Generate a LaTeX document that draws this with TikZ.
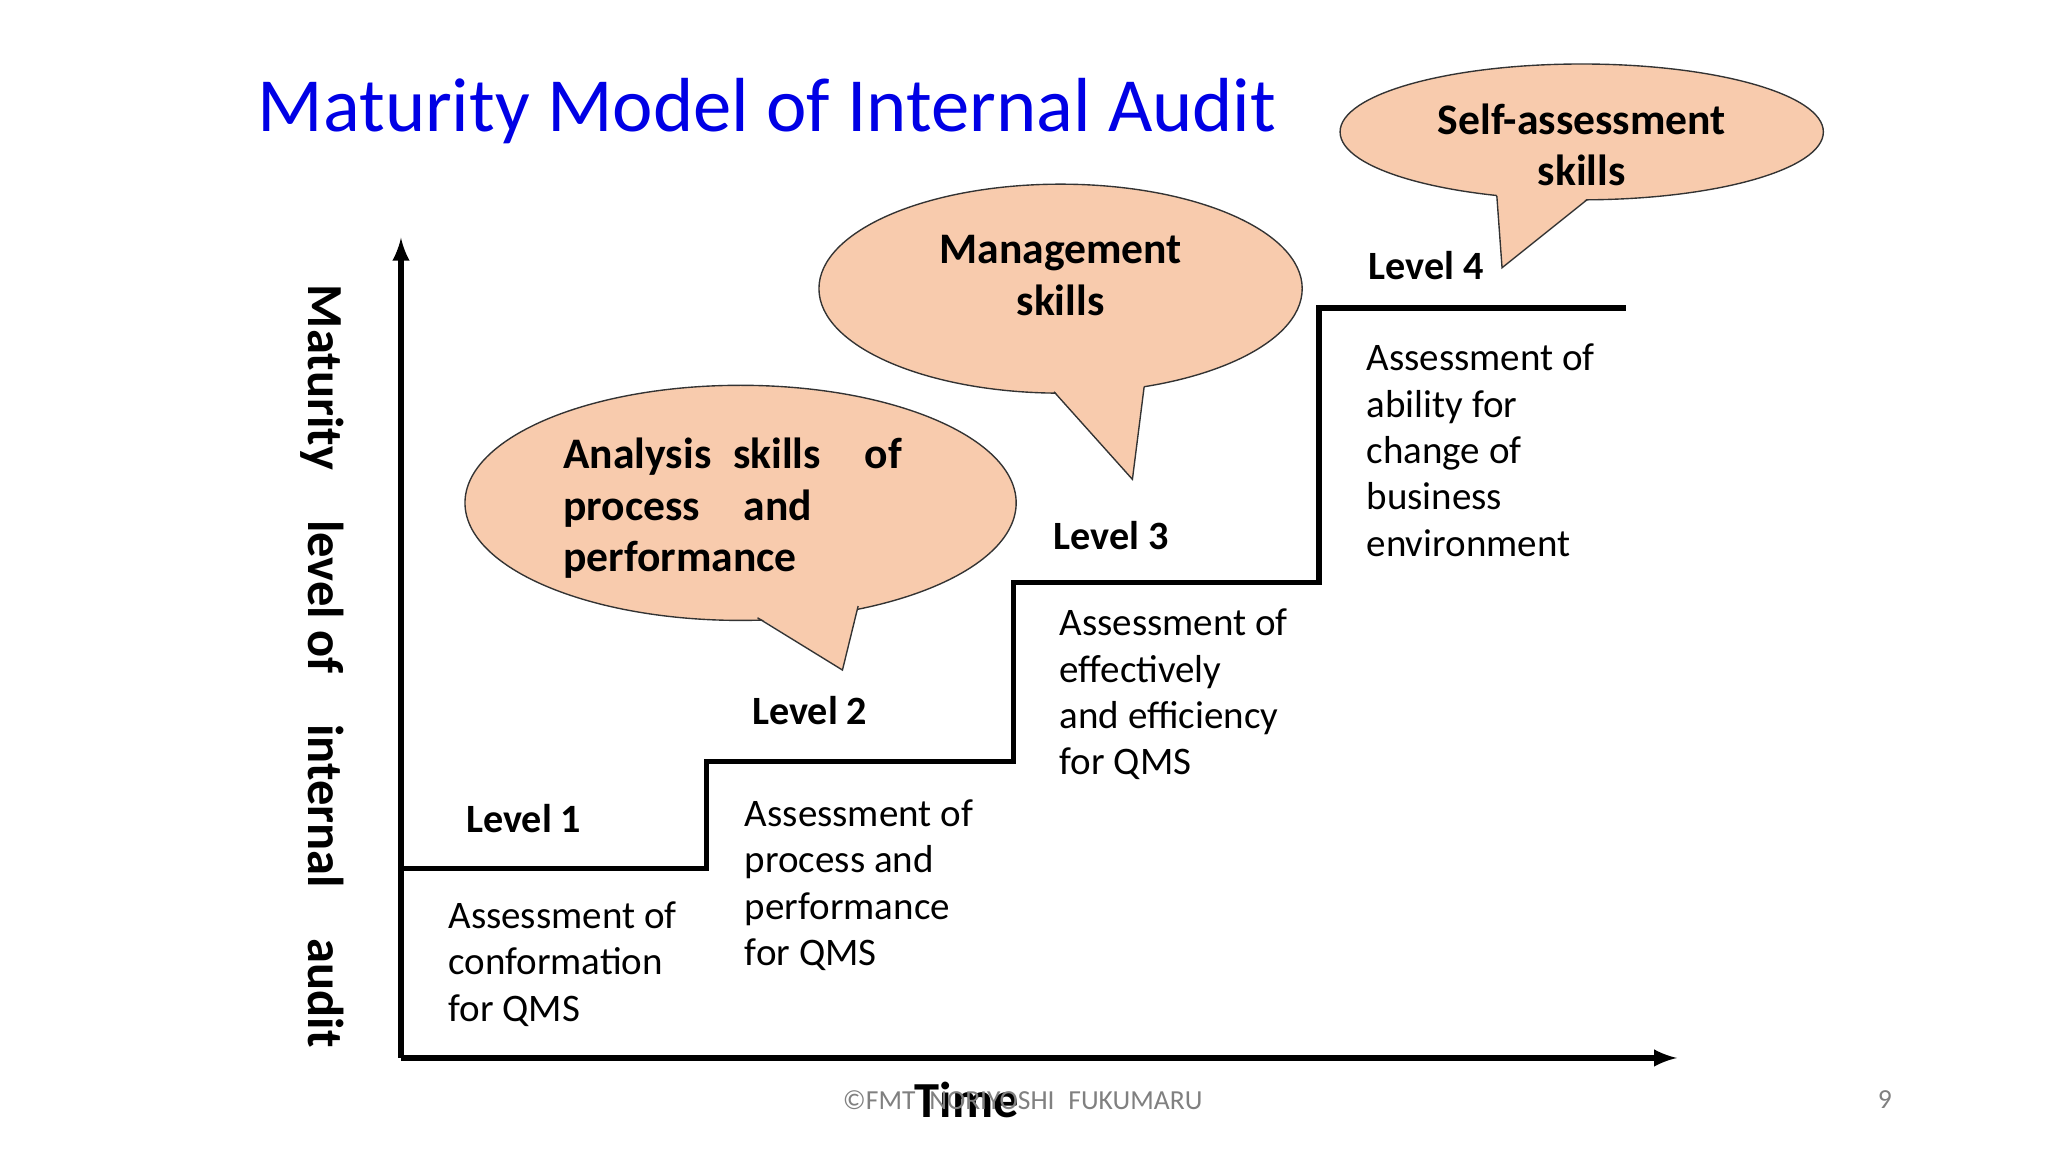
\documentclass[tikz,border=0pt]{standalone}
\usepackage{fontspec}
\setmainfont{Carlito}
\begin{document}
\begin{tikzpicture}
  [x=0.02cm, y=-0.02cm,
   stepline/.style={line width=2.4pt},
   axisline/.style={line width=2.4pt, -latex},
   level/.style={font=\fontsize{17.5}{20}\selectfont\bfseries, inner sep=0pt},
   desc/.style={font=\fontsize{17}{20.2}\selectfont, align=left, anchor=north west, inner sep=0pt},
   bubtext/.style={font=\fontsize{19}{22.5}\selectfont\bfseries, inner sep=0pt},
   bubline/.style={draw=black!80, line width=0.6pt}]
  \definecolor{peach}{HTML}{F8CBAD}
  \tikzset{bubfill/.style={fill=peach}}
  \useasboundingbox (0,0) rectangle (1568,882);
  % title
  \node[anchor=west, text=blue!90!black, font=\fontsize{33.4}{40}\selectfont, inner sep=0pt] (title) at (197,85) {Maturity Model of Internal Audit};
  % axes
  \coordinate (origin) at (307,810);
  \coordinate (ytop) at (307,182);
  \coordinate (xend) at (1284,810);
  \draw[axisline] (origin) -- (ytop);
  \draw[axisline] (origin) -- (xend);
  \node[rotate=-90, font=\fontsize{22}{24}\selectfont\bfseries, inner sep=0pt] (ylabel) at (247,510)
    {Maturity\quad level of\quad internal\quad audit};
  \node[font=\fontsize{22}{24}\selectfont\bfseries, inner sep=0pt] (time) at (740,842) {Time};
  \node[text=gray, font=\fontsize{12}{14}\selectfont, inner sep=0pt] (footer) at (783,842) {©FMT\enspace NORIYOSHI\enspace FUKUMARU};
  \node[text=gray, font=\fontsize{12}{14}\selectfont, inner sep=0pt] (page) at (1443,842) {9};
  % steps
  \draw[stepline] (307,665) -- (541,665) -- (541,583) -- (776,583) -- (776,446)
    -- (1010,446) -- (1010,236) -- (1245,236);
  \node[level] (l1) at (401,627) {Level 1};
  \node[level] (l2) at (620,544) {Level 2};
  \node[level] (l3) at (851,410) {Level 3};
  \node[level] (l4) at (1092,203) {Level 4};
  \node[desc] (d1) at (343,690) {Assessment of\\conformation\\for QMS};
  \node[desc] (d2) at (570,612) {Assessment of\\process and\\performance\\for QMS};
  \node[desc] (d3) at (811,466) {Assessment of\\effectively\\and efficiency\\for QMS};
  \node[desc] (d4) at (1046,263) {Assessment of\\ability for\\change of\\business\\environment};
  % bubble 1
  \fill[bubfill] (567,385) -- (580,472) -- (645,513) -- (657,463) -- cycle;
  \draw[bubfill, bubline] (567,385) ellipse [x radius=211, y radius=90];
  \fill[bubfill] (600,420) -- (580,472) -- (645,513) -- (657,463) -- cycle;
  \draw[bubline] (580,473) -- (645,513) -- (657,464);
  \node[bubtext, align=left, anchor=north west] (b1) at (431,335)
    {Analysis\enspace skills\enspace\enspace of\\process\enspace\enspace and\\performance};
  % bubble 2
  \fill[bubfill] (812,221) -- (807,300) -- (867,367) -- (876,296) -- cycle;
  \draw[bubfill, bubline] (812,221) ellipse [x radius=185, y radius=80];
  \fill[bubfill] (830,270) -- (807,299) -- (867,367) -- (876,295) -- cycle;
  \draw[bubline] (807,300) -- (867,367) -- (876,296);
  \node[bubtext, align=center] (b2) at (812,211) {Management\\skills};
  % bubble 3
  \fill[bubfill] (1211,101) -- (1146,150) -- (1150,205) -- (1215,153) -- cycle;
  \draw[bubfill, bubline] (1211,101) ellipse [x radius=185, y radius=52];
  \fill[bubfill] (1180,130) -- (1146,149) -- (1150,205) -- (1215,152) -- cycle;
  \draw[bubline] (1146,150) -- (1150,205) -- (1215,153);
  \node[bubtext, align=center] (b3) at (1211,111) {Self-assessment\\skills};
\end{tikzpicture}
\end{document}
